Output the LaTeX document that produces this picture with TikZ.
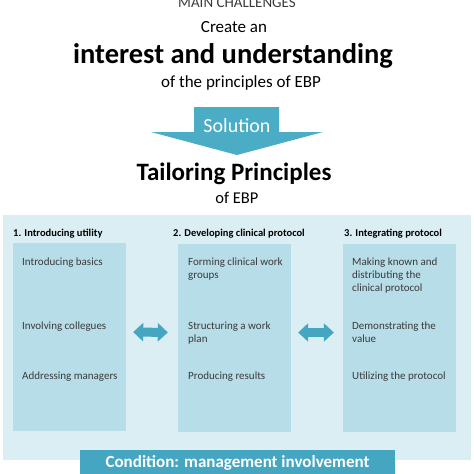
\documentclass[tikz,border=0pt]{standalone}
\usepackage{fontspec}
\setmainfont{Carlito}
\usepackage{xcolor}
\usetikzlibrary{arrows.meta}
\definecolor{accentblue}{HTML}{4BACC6}
\definecolor{barblue}{HTML}{45A6C1}
\definecolor{panelblue}{HTML}{DAEEF3}
\definecolor{boxblue}{HTML}{B7DDE8}
\definecolor{itemgray}{HTML}{3A3A3A}

\begin{document}
\begin{tikzpicture}[x=1pt, y=-1pt,
    colbox/.style={fill=boxblue, minimum width=113pt, minimum height=188pt, inner sep=0pt},
    head/.style={font=\fontsize{10.5}{12}\selectfont\bfseries, anchor=base west, inner sep=0pt},
    item/.style={font=\fontsize{11}{13}\selectfont, text=itemgray, anchor=base west, align=left, inner sep=0pt},
    dblarrow/.style={barblue, line width=9pt, {Triangle[width=18pt,length=10pt]}-{Triangle[width=18pt,length=10pt]}}]
    \useasboundingbox (0,0) rectangle (474,474);
    % Titel
    \node[anchor=base, font=\fontsize{15}{18}\selectfont, text=itemgray] (challenges) at (237,7.5) {MAIN CHALLENGES};
    \node[anchor=base, font=\fontsize{17}{20}\selectfont] (create) at (234,32) {Create an};
    \node[anchor=base, font=\fontsize{28.5}{32}\selectfont\bfseries] (interest) at (233,63) {interest and understanding};
    \node[anchor=base, font=\fontsize{17}{20}\selectfont] (principles) at (241,87) {of the principles of EBP};
    % Pfeil
    \fill[accentblue] (194,107) -- (279,107) -- (279,132) -- (323,132) -- (237,155) -- (151,132) -- (194,132) -- cycle;
    \node[anchor=base, font=\fontsize{20}{24}\selectfont, text=white] (solution) at (237,132) {Solution};
    \node[anchor=base, font=\fontsize{25}{30}\selectfont\bfseries] (tailoring) at (234,180) {Tailoring Principles};
    \node[anchor=base, font=\fontsize{16.5}{20}\selectfont] (ebp) at (237,203) {of EBP};
    % Spalten
    \fill[panelblue] (3,215) rectangle (471,460);
    \node[head] (head1) at (13,236) {1. Introducing utility};
    \node[head] (head2) at (173,236) {2. Developing clinical protocol};
    \node[head] (head3) at (344,236) {3. Integrating protocol};
    \node[colbox] (box1) at (69.5,337) {};
    \node[colbox] (box2) at (234.5,337.5) {};
    \node[colbox] (box3) at (399.5,337.5) {};
    % (mehrzeilig: Basislinie der letzten Zeile)
    \node[item] (basics) at (22,265) {Introducing basics};
    \node[item] (collegues) at (22,329) {Involving collegues};
    \node[item] (managers) at (22,379) {Addressing managers};
    \node[item] (groups) at (188,278) {Forming clinical work\\groups};
    \node[item] (plan) at (188,342) {Structuring a work\\plan};
    \node[item] (results) at (188,379) {Producing results};
    \node[item] (known) at (352,291) {Making known and\\distributing the\\clinical protocol};
    \node[item] (value) at (352,342) {Demonstrating the\\value};
    \node[item] (utilizing) at (352,379) {Utilizing the protocol};
    % Doppelpfeile
    \draw[dblarrow, shorten <=7pt, shorten >=10pt] ([yshift=5pt]box1.east) -- ([yshift=5pt]box2.west);
    \draw[dblarrow, shorten <=7pt, shorten >=9pt] ([yshift=5pt]box2.east) -- ([yshift=5pt]box3.west);
    % Bedingung
    \node[fill=barblue, minimum width=315pt, minimum height=26pt, inner sep=0pt, text=white,
          font=\fontsize{17}{20}\selectfont\bfseries] (condition) at (237.5,463) {Condition: management involvement};
\end{tikzpicture}
\end{document}
